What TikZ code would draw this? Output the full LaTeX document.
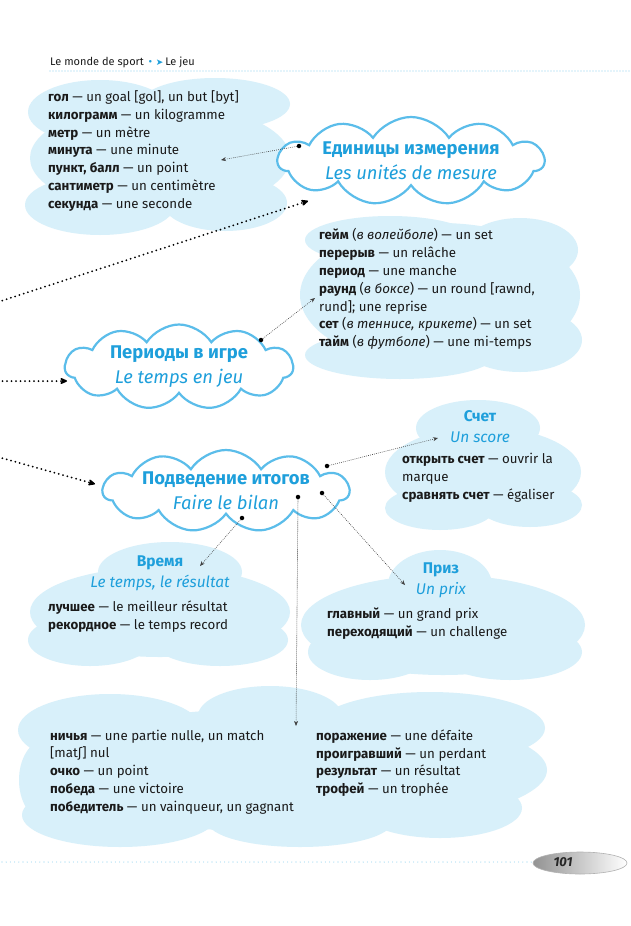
\documentclass[tikz,border=0pt]{standalone}
\usepackage{fontspec}
\setmainfont{Fira Sans}
\newfontfamily\symbolfont{DejaVu Sans}
\usepackage{xcolor}
\definecolor{sky}{HTML}{1E9FDB}
\definecolor{skyline}{HTML}{5BBDEA}
\definecolor{skysoft}{HTML}{D8F0FA}
\definecolor{dotline}{HTML}{8DD0EE}
\definecolor{ink}{HTML}{1A1A1A}
\usepackage{tikz}
\usetikzlibrary{shapes.symbols,shapes.geometric,arrows.meta,positioning}

\begin{document}
\begin{tikzpicture}[x=1pt,y=-1pt,
  every node/.style={inner sep=0pt,text=ink},
  vocab/.style={anchor=north west,align=left,font=\fontsize{13.3}{17.8}\selectfont,
    execute at begin node=\strut},
  heading/.style={anchor=north,align=center,text=sky,font=\fontsize{15.5}{21}\selectfont,
    execute at begin node=\strut},
  titlecloud/.style={cloud,cloud puffs=11,cloud puff arc=115,cloud ignores aspect,
    inner xsep=-22pt,inner ysep=-6pt,
    draw=skyline,line width=2.2pt,fill=white,align=center,text=sky,
    font=\fontsize{18.4}{25}\selectfont},
  pin/.style={circle,fill=black,minimum size=4.5pt},
  link/.style={dash pattern=on 0.8pt off 1.2pt,line width=0.6pt,black!75,
    -{Stealth[length=5pt,width=4pt]}},
  bigarr/.style={line width=2pt,dash pattern=on 0pt off 4.5pt,line cap=round,black,
    -{Stealth[length=9pt,width=8pt,round]}}]
  \useasboundingbox[fill=white] (0,0) rectangle (631,926);

  % header
  \node[anchor=base west,font=\fontsize{11}{13}\selectfont] (header) at (50,65)
    {Le monde de sport {\color{sky}\,\textbullet\,\,{\symbolfont\fontsize{9}{10}\selectfont ➤}}\,Le jeu};
  \draw[dotline,line width=1.1pt,line cap=round,dash pattern=on 0pt off 3pt] (50,71) -- (631,71);

  % soft clouds behind the word lists
  \foreach \cx/\cy/\rx/\ry in {100/112/72/32, 215/104/75/26, 160/158/130/55, 100/205/75/30, 225/203/62/28,
      440/295/140/72, 390/240/85/24, 520/250/58/32, 400/355/95/24, 520/340/62/32,
      478/428/62/28, 483/472/98/45, 440/508/55/22, 530/505/52/22,
      170/572/72/30, 160/612/130/45, 90/640/62/26, 220/640/68/26,
      440/585/52/35, 443/625/142/50, 370/652/62/28, 510/652/72/28,
      285/770/262/62, 110/730/92/36, 270/716/72/30, 430/728/115/36,
      120/815/98/32, 300/822/92/25, 440/808/82/30, 45/780/26/40}
    \fill[skysoft] (\cx,\cy) ellipse [x radius=\rx pt,y radius=\ry pt];

  % word lists
  \node[vocab] (units list) at (48,90.5)
    {\textbf{гол} — un goal [gol], un but [byt]\\
     \textbf{килограмм} — un kilogramme\\
     \textbf{метр} — un mètre\\
     \textbf{минута} — une minute\\
     \textbf{пункт, балл} — un point\\
     \textbf{сантиметр} — un centimètre\\
     \textbf{секунда} — une seconde};
  \node[vocab] (periods list) at (319,228.5)
    {\textbf{гейм} (\textit{в волейболе}) — un set\\
     \textbf{перерыв} — un relâche\\
     \textbf{период} — une manche\\
     \textbf{раунд} (\textit{в боксе}) — un round [rawnd,\\
     rund]; une reprise\\
     \textbf{сет} (\textit{в теннисе, крикете}) — un set\\
     \textbf{тайм} (\textit{в футболе}) — une mi-temps};
  \node[heading] (score) at (480,410.3) {\textbf{Счет}\\\textit{Un score}};
  \node[vocab] (score list) at (402,453.2)
    {\textbf{открыть счет} — ouvrir la\\
     marque\\
     \textbf{сравнять счет} — égaliser};
  \node[heading] (time) at (160,555.3) {\textbf{Время}\\\textit{Le temps, le résultat}};
  \node[vocab] (time list) at (48,600.5)
    {\textbf{лучшее} — le meilleur résultat\\
     \textbf{рекордное} — le temps record};
  \node[heading] (prize) at (441,562.3) {\textbf{Приз}\\\textit{Un prix}};
  \node[vocab] (prize list) at (327,607.5)
    {\textbf{главный} — un grand prix\\
     \textbf{переходящий} — un challenge};
  \node[vocab] (result list) at (50,729.5)
    {\textbf{ничья} — une partie nulle, un match\\
     {[}mat{\symbolfont ʃ}{]} nul\\
     \textbf{очко} — un point\\
     \textbf{победа} — une victoire\\
     \textbf{победитель} — un vainqueur, un gagnant};
  \node[vocab] (result list2) at (316,729.5)
    {\textbf{поражение} — une défaite\\
     \textbf{проигравший} — un perdant\\
     \textbf{результат} — un résultat\\
     \textbf{трофей} — un trophée};

  % topic clouds
  \node[titlecloud,minimum width=266pt,minimum height=88pt] (units) at (411,161)
    {\textbf{Единицы измерения}\\\textit{Les unités de mesure}};
  \node[titlecloud,minimum width=228pt,minimum height=85pt] (periods) at (179,367)
    {\textbf{Периоды в игре}\\\textit{Le temps en jeu}};
  \node[titlecloud,minimum width=246pt,minimum height=82pt] (summary) at (226,491)
    {\textbf{Подведение итогов}\\\textit{Faire le bilan}};

  % arrows coming in from the previous page
  \coordinate (edge units) at (-2,302);
  \coordinate (units in) at (308,201);
  \coordinate (edge periods) at (-2,381);
  \coordinate (periods in) at (67,381);
  \coordinate (edge summary) at (-2,457);
  \coordinate (summary in) at (95,484);
  \draw[bigarr] (edge units) -- (units in);
  \draw[bigarr] (edge periods) -- (periods in);
  \draw[bigarr] (edge summary) -- (summary in);

  % pins and links
  \node[pin] (pin units) at (299,146) {};
  \node[pin] (pin periods) at (261,340) {};
  \node[pin] (pin score) at (327,466) {};
  \node[pin] (pin time) at (242,518) {};
  \node[pin] (pin result) at (298,497) {};
  \node[pin] (pin prize) at (322,493) {};
  \coordinate (units tip) at (221,160);
  \coordinate (periods tip) at (315,298);
  \coordinate (score tip) at (438,438);
  \coordinate (time tip) at (200,566);
  \coordinate (result tip) at (296,726);
  \coordinate (prize tip) at (405,585);
  \draw[link] (pin units) -- (units tip);
  \draw[link] (pin periods) -- (periods tip);
  \draw[link] (pin score) -- (score tip);
  \draw[link] (pin time) -- (time tip);
  \draw[link] (pin result) -- (result tip);
  \draw[link] (pin prize) -- (prize tip);

  % footer
  \draw[dotline,line width=1.1pt,line cap=round,dash pattern=on 0pt off 4.2pt] (2,862) -- (532,862);
  \node[ellipse,draw=gray!60,line width=0.6pt,left color=gray!85,right color=white,
    minimum width=94pt,minimum height=22pt] (page) at (580,863) {};
  \node[font=\fontsize{13}{15}\selectfont\bfseries\itshape,text=black!85] (page no) at (563,862) {101};
\end{tikzpicture}
\end{document}
